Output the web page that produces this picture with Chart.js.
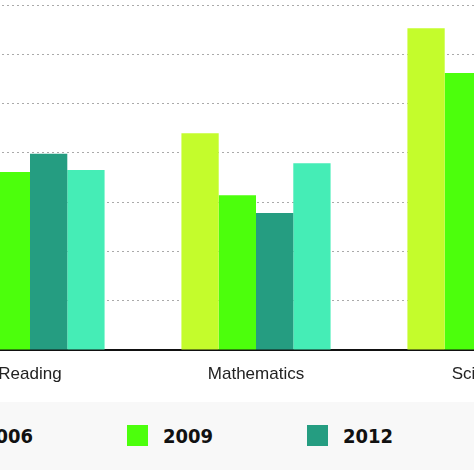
<!DOCTYPE html>
<html><head><meta charset="utf-8">
<script src="https://cdn.jsdelivr.net/npm/chart.js@4"></script>
<style>
html,body{margin:0;padding:0;width:474px;height:474px;overflow:hidden;background:#fff;position:relative}
#wrap{position:absolute;left:-83px;top:0;width:678px;height:400px}
#band{position:absolute;left:0;top:402px;width:474px;height:68px;background:#f8f8f8}
.item{position:absolute;top:425px;height:21px;display:flex;align-items:center;font-family:"Liberation Sans Narrow","DejaVu Sans Condensed",sans-serif;font-weight:bold;font-size:20px;color:#111}
.item span.b{display:inline-block;width:21px;height:21px;margin-right:15px}
</style></head><body>
<div id="band"></div>
<div id="wrap"><canvas id="c"></canvas></div>
<div id="leg"></div>
<script>
const categories = ["Reading","Mathematics","Science"];
const years = ["2006","2009","2012","2015"];
const colors = ["#c4fc2c","#4cff0c","#259d81","#45edb6"];
const v2006 = [4.2, 4.40, 6.53];
const v2009 = [3.61, 3.14, 5.62];
const v2012 = [3.98, 2.78, 4.6];
const v2015 = [3.65, 3.79, 5.0];
const series = [v2006, v2009, v2012, v2015];

const legX = [-53, 127, 307, 487];
const leg = document.getElementById('leg');
years.forEach((y,i)=>{
  const d=document.createElement('div'); d.className='item'; d.style.left=legX[i]+'px';
  d.innerHTML='<span class="b" style="background:'+colors[i]+'"></span>'+y; leg.appendChild(d);
});

new Chart(document.getElementById('c'), {
  type:'bar',
  data:{labels:categories, datasets: years.map((y,i)=>({label:y,data:series[i],backgroundColor:colors[i],borderWidth:0}))},
  options:{
    responsive:true, maintainAspectRatio:false, animation:false,
    layout:{padding:{top:5,left:0,right:0,bottom:0}},
    plugins:{legend:{display:false},tooltip:{enabled:false}},
    datasets:{bar:{categoryPercentage:0.66,barPercentage:1}},
    scales:{
      x:{grid:{display:false},border:{display:true,color:'#111',width:2},
         ticks:{color:'#222',font:{family:'"Liberation Sans Narrow", sans-serif',size:17},padding:6},
         afterFit:s=>{s.height=50;}},
      y:{min:0,max:7,ticks:{display:false,stepSize:1},border:{display:false},
         grid:{color:'#aaaaaa',lineWidth:1,tickLength:0,drawTicks:false},
         afterFit:s=>{s.width=0;}}
    }
  },
  plugins:[{id:'dash',beforeDraw(ch){ch.scales.y.options.border.dash=[2,3];}}]
});
</script></body></html>
